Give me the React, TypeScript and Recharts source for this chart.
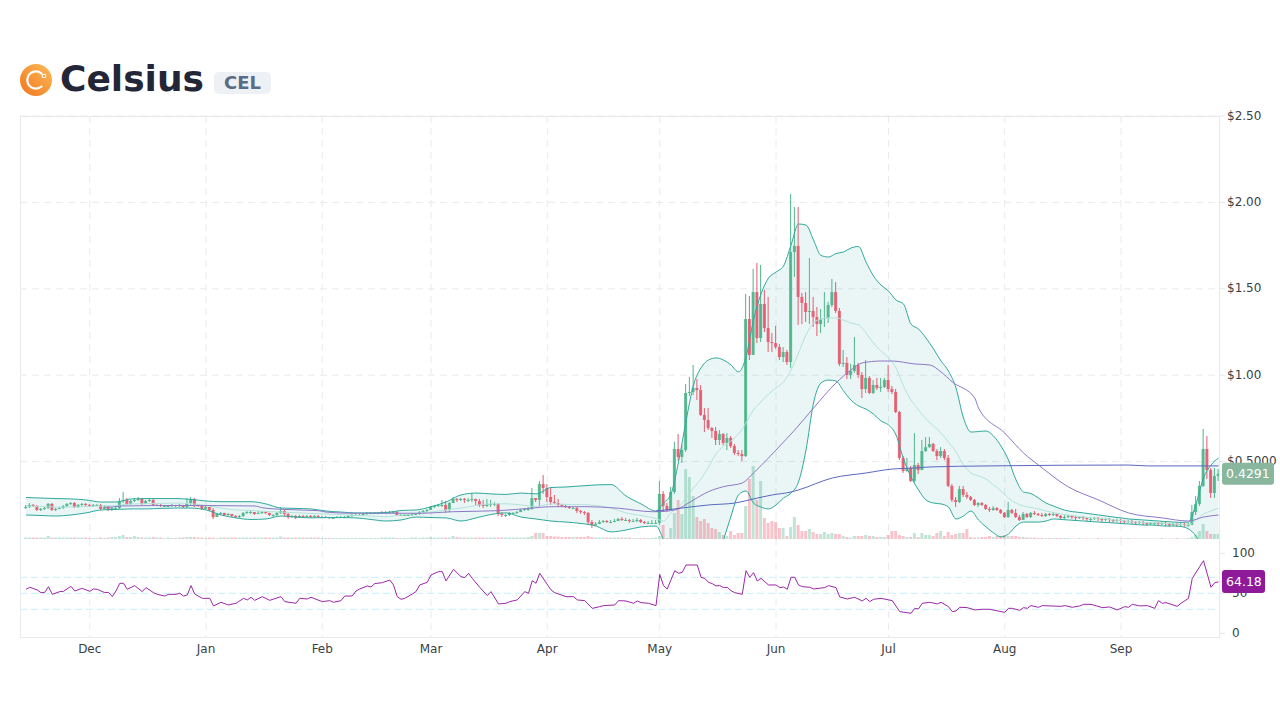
import React from "react";
import {
    ComposedChart,
    Area,
    Bar,
    Line,
    XAxis,
    YAxis,
    CartesianGrid,
} from "recharts";

const monthLabels = ["Dec", "Jan", "Feb", "Mar", "Apr", "May", "Jun", "Jul", "Aug", "Sep"];
const monthDays = [17, 48, 79, 108, 139, 169, 200, 230, 261, 292];
const priceLines = [0.5, 1, 1.5, 2, 2.5];
const rsiLines = [30, 50, 70];
const lastClose = 0.4291;
const lastRsi = 64.18;

const closes = [
    .237,.249,.243,.220,.226,.231,.255,.220,.226,.231,.243,.255,.260,.237,.249,.255,.249,.243,.249,.249,.226,.237,.220,.231,.231,.272,.278,.255,.272,.278,.284,.255,.272,.278,.249,.249,.243,.243,.243,.249,.243,.249,.237,.260,.284,.249,.243,.226,.237,
    .220,.179,.197,.203,.191,.197,.185,.179,.185,.203,.208,.208,.197,.203,.208,.203,.191,.191,.203,.214,.197,.179,.185,.174,.185,.179,.185,.179,.185,.179,
    .179,.179,.174,.174,.179,.179,.179,.185,.191,.191,
    .191,.197,.203,.203,.203,.203,.208,.208,.208,.208,
    .191,.191,.191,.191,.197,.197,.208,.214,.220,.237,
    .243,.249,.249,.220,.260,.284,.278,.284,.278,.278,
    .284,.272,.249,.243,.255,.255,.255,.197,.191,.191,
    .203,.203,.208,.220,.226,.226,.289,.278,.370,.347,
    .295,.266,.260,.249,.243,.237,.231,.231,.214,.208,
    .203,.150,.133,.139,.150,.156,.150,.150,.156,.168,
    .162,.162,.156,.156,.162,.150,.145,.145,.145,.145,
    .313,.243,.220,.324,.573,.527,.567,.897,.903,.926,.914,.770,.741,.694,.677,.625,.660,.608,.637,.590,.550,.544,.532,
    1.325,1.117,1.481,1.215,1.412,1.273,1.192,1.186,1.163,1.105,1.134,1.076,1.713,1.748,1.453,1.418,1.366,1.372,1.337,1.296,1.325,1.331,1.406,1.481,1.372,1.065,1.071,1.001,1.024,1.059,1.001,.920,.984,.897,.943,.926,.932,.972,.920,.903,.787,.521,.446,.463,.388,.480,.451,.561,.584,.602,.561,.532,.561,.521,.359,.278,.266,.341,.307,.295,.278,.249,.260,.249,.226,.220,.231,.220,.203,.179,.220,.203,.179,.162,.197,.179,.203,.197,.191,.185,.197,.191,.197,.185,.174,.179,.185,
    .179,.174,.179,.174,.168,.168,.174,.168,.162,.168,.162,.156,.162,.156,.150,.156,.150,.145,.150,.145,.139,.145,.145,.139,.145,.139,.133,.139,.133,.139,.133,.133,
    .208,.255,.359,.573,.451,.318,.417,lastClose,
];

const highs = [
    .249,.260,.255,.249,.231,.237,.260,.260,.231,.237,.249,.260,.266,.266,.255,.260,.260,.255,.255,.255,.255,.249,.243,.237,.237,.289,.324,.289,.278,.289,.295,.289,.278,.289,.284,.260,.255,.249,.249,.255,.249,.255,.249,.289,.295,.289,.255,.249,.249,
    .237,.231,.203,.208,.203,.203,.197,.191,.191,.208,.214,.220,.208,.214,.214,.208,.203,.197,.208,.237,.220,.203,.191,.191,.191,.191,.191,.191,.191,.191,
    .185,.185,.179,.179,.185,.185,.185,.191,.197,.197,
    .197,.203,.208,.208,.208,.208,.214,.214,.214,.214,
    .214,.197,.197,.197,.203,.203,.214,.220,.226,.243,
    .249,.255,.278,.272,.266,.295,.289,.289,.289,.289,
    .318,.284,.284,.278,.284,.278,.266,.260,.208,.197,
    .208,.208,.214,.226,.231,.237,.347,.289,.388,.422,
    .370,.347,.307,.284,.255,.249,.243,.237,.237,.220,
    .214,.208,.162,.150,.162,.162,.162,.162,.168,.174,
    .179,.174,.168,.168,.174,.168,.156,.156,.162,.162,
    .389,.330,.260,.353,.615,.660,.596,.949,.990,1.059,.978,.943,.810,.810,.700,.700,.683,.665,.665,.648,.602,.567,.567,
    1.470,1.458,1.615,1.649,1.638,1.493,1.453,1.244,1.285,1.181,1.163,1.146,2.049,1.973,1.973,1.476,1.481,1.678,1.453,1.395,1.383,1.481,1.424,1.557,1.539,1.389,1.146,1.105,1.065,1.221,1.071,1.018,1.088,.995,.972,.984,.984,.984,1.059,.937,.920,.793,.532,.521,.475,.665,.492,.625,.642,.642,.608,.573,.584,.573,.538,.370,.295,.359,.359,.324,.301,.284,.266,.266,.255,.237,.243,.237,.226,.208,.266,.226,.226,.191,.208,.203,.208,.214,.203,.203,.203,.203,.208,.197,.191,.191,.191,
    .191,.185,.185,.185,.179,.179,.179,.179,.174,.174,.174,.168,.168,.168,.162,.162,.162,.156,.156,.156,.150,.150,.150,.150,.150,.150,.145,.145,.145,.145,.145,.145,
    .249,.301,.388,.689,.648,.463,.463,.457,
];

const lows = [
    .226,.231,.237,.214,.214,.220,.226,.214,.214,.226,.226,.237,.249,.231,.231,.243,.243,.237,.237,.243,.220,.226,.214,.214,.226,.226,.260,.249,.249,.266,.272,.249,.260,.266,.243,.243,.237,.237,.237,.237,.237,.237,.231,.231,.249,.237,.237,.220,.226,
    .214,.168,.179,.191,.185,.185,.179,.174,.174,.179,.197,.197,.191,.197,.197,.197,.185,.179,.185,.197,.185,.168,.174,.168,.174,.174,.174,.174,.174,.174,
    .174,.174,.168,.168,.174,.174,.174,.174,.179,.185,
    .185,.185,.191,.197,.197,.197,.197,.197,.203,.203,
    .185,.185,.185,.185,.185,.191,.191,.203,.208,.220,
    .231,.237,.237,.203,.208,.260,.266,.272,.260,.266,
    .266,.249,.237,.231,.237,.237,.243,.185,.179,.179,
    .185,.197,.197,.208,.214,.214,.220,.266,.243,.313,
    .266,.249,.255,.237,.237,.231,.226,.226,.203,.197,
    .191,.133,.116,.127,.139,.145,.145,.145,.150,.156,
    .156,.156,.145,.150,.150,.145,.139,.139,.139,.139,
    .133,.208,.208,.220,.313,.503,.492,.556,.880,.885,.856,.764,.671,.683,.637,.596,.596,.596,.567,.579,.538,.532,.503,
    .527,1.088,1.117,1.186,1.192,1.250,1.134,1.134,1.152,1.088,1.076,1.059,1.042,1.568,1.291,1.296,1.308,1.296,1.279,1.227,1.244,1.279,1.302,1.395,1.360,1.053,1.047,.978,.978,1.013,.984,.868,.897,.891,.891,.914,.903,.926,.903,.891,.781,.509,.434,.440,.382,.382,.428,.451,.556,.579,.556,.509,.521,.509,.353,.266,.237,.260,.295,.284,.272,.243,.237,.243,.220,.208,.214,.214,.197,.174,.174,.197,.174,.156,.162,.174,.174,.191,.185,.179,.179,.185,.185,.179,.168,.168,.174,
    .168,.162,.168,.162,.156,.156,.162,.156,.150,.156,.150,.145,.150,.145,.139,.145,.139,.133,.139,.133,.127,.133,.133,.127,.133,.127,.122,.127,.122,.127,.122,.122,
    .139,.191,.243,.353,.399,.289,.289,.388,
];

const volumes = [
    1.5,1.5,1.5,1.5,1.5,1.5,3,1.5,1.5,1.5,
    1.5,1.5,1.5,1.5,1.5,1.5,1.5,1,1,1,
    1.5,1,1.5,2,2,3,4,2,2,3,
    2,1.5,1.5,1.5,2,1.5,1.5,1,1.5,1,
    1,1.5,1.5,2,2,2,1.5,1.5,1,1.5,
    1.5,1,1.5,1.5,1.5,1.5,1.5,1.5,1.5,1.5,
    1.5,1.5,1.5,1.5,1.5,1.5,1.5,1.5,2.5,1.5,
    1.5,1.5,1.5,1.5,1.5,1.5,1.5,1.5,1.5,1,
    1,1,1,1,1,1,1,1,1,1,
    1,1,1,1,1,1.5,1.5,1.5,1.5,1,
    1,1,1,1.5,1.5,1,1.5,1.5,2,1.5,
    1.5,1.5,1.5,1.5,3,2,1.5,1.5,1.5,1.5,
    1.5,1.5,1.5,1.5,1.5,1.5,1.5,1.5,1.5,1.5,
    1.5,1.5,1.5,1.5,2,3,6,6,6,3,
    3,2.5,2.5,2,2,2,2,2,2,2,
    3,2,1.5,1.5,1.5,1.5,1.5,1.5,1.5,1.5,
    1.5,1.5,1,1,1,1,1,1,1.5,
    3,14,1,11,26,39,25,70,62,43,22,18,20,16,11,10,7,4,3,8,4,6,6,
    33,60,73,39,58,21,16,18,17,11,11,3,12,22,14,8,8,10,7,5,5,7,5,6,5,5,3,2,1.5,3,3,3,4,3,3,2,2,2,4,8,8,4,3,2,2,6,2,6,4,4,3,6,8,3,7,4,5,6,6,10,2,1.5,1.5,2,2,3,2,3,3,4,3,3,3,2,2,1.5,1.5,1.5,1,1,1,1,1,1,1,1,1,
    .5,.5,1,.5,.5,.5,.5,1,.5,.5,.5,.5,.5,.5,.5,1,.5,.5,.5,.5,.5,.5,.5,.5,1,.5,.5,.5,1,.5,.5,1,
    2,4,8,15,8,5,5,5,
];

const bandDays = [
    0,4,8,12,16,20,24,28,32,36,40,44,48,52,56,60,64,68,72,76,80,84,88,92,96,100,104,108,112,116,120,124,128,132,136,140,144,148,152,156,160,164,168,
    170,172,174,176,178,180,182,184,186,188,190,192,194,196,198,200,202,204,206,208,210,212,214,216,218,220,222,224,226,228,230,232,234,236,238,240,242,244,246,248,250,252,254,256,258,260,262,264,266,268,270,272,274,276,278,280,282,284,286,288,290,292,294,296,298,300,302,304,306,308,310,312,314,316,318,
];
const bandUpper = [
    .292,.289,.286,.284,.278,.266,.266,.284,.286,.286,.286,.281,.272,.268,.268,.268,.255,.231,.229,.226,.214,.208,.203,.203,.205,.217,.220,.239,.266,.307,.318,.313,.310,.318,.313,.350,.353,.359,.365,.367,.301,.255,.214,
    .260,.313,.498,.735,.943,1.042,1.088,1.100,1.088,1.059,1.019,1.105,1.319,1.470,1.562,1.597,1.632,1.753,1.875,1.869,1.782,1.693,1.684,1.704,1.713,1.736,1.745,1.655,1.574,1.522,1.487,1.435,1.412,1.296,1.267,1.215,1.152,1.082,1.024,.926,.752,.671,.674,.677,.648,.590,.509,.394,.324,.315,.289,.260,.243,.226,.214,.208,.203,.197,.191,.185,.179,.174,.168,.165,.162,.159,.156,.153,.150,.148,.150,.255,.405,.480,.521,
];
const bandMiddle = [
    .243,.240,.237,.237,.240,.243,.245,.255,.256,.258,.260,.256,.246,.231,.220,.217,.211,.208,.204,.200,.197,.193,.188,.185,.181,.191,.200,.208,.220,.231,.246,.255,.256,.249,.240,.255,.252,.251,.246,.231,.203,.188,.171,
    .156,.203,.237,.289,.347,.399,.469,.544,.590,.619,.660,.723,.799,.845,.891,.926,.961,1.030,1.128,1.233,1.302,1.325,1.331,1.331,1.319,1.302,1.291,1.244,1.186,1.140,1.100,1.042,.937,.856,.799,.747,.706,.665,.613,.556,.480,.434,.417,.399,.365,.330,.289,.260,.243,.234,.226,.214,.205,.197,.191,.185,.179,.174,.171,.168,.162,.159,.153,.150,.148,.145,.145,.142,.139,.136,.133,.162,.197,.214,.231,
];
const bandLower = [
    .191,.188,.185,.191,.203,.220,.223,.226,.226,.229,.231,.231,.220,.191,.174,.165,.168,.185,.179,.174,.176,.176,.174,.165,.156,.162,.179,.176,.174,.156,.174,.194,.203,.179,.168,.156,.150,.142,.127,.093,.104,.122,.127,
    .046,-.058,-.185,-.301,-.359,-.417,-.243,-.081,.046,.185,.307,.330,.260,.237,.226,.249,.289,.318,.382,.567,.839,.955,.972,.966,.909,.856,.822,.804,.775,.735,.712,.654,.515,.411,.336,.278,.260,.255,.237,.168,.185,.214,.162,.122,.087,.064,.081,.127,.150,.150,.150,.156,.168,.165,.162,.159,.156,.153,.150,.148,.145,.142,.139,.136,.133,.133,.130,.127,.127,.124,.110,.069,-.012,-.127,-.185,
];

const maFastDays = [21,23,25,42,52,61,63,69,78,80,87,105,114,126,135,140,149,158,167,168,173,175,178,182,186,191,194,198,201,205,210,216,220,223,228,231,237,241,244,247,253,254,261,266,270,278,286,294,303,310,314,318];
const maFast = [.237,.237,.243,.246,.245,.243,.233,.223,.216,.208,.201,.201,.210,.216,.231,.239,.239,.230,.210,.210,.220,.239,.278,.326,.355,.376,.434,.521,.590,.683,.810,.955,1.030,1.071,1.082,1.082,1.065,1.059,1.019,.961,.868,.810,.665,.550,.480,.353,.278,.203,.174,.156,.179,.191];
const maSlowDays = [168,173,177,182,189,194,199,204,206,215,224,231,237,241,257,294,299,318];
const maSlow = [.214,.226,.237,.249,.260,.284,.307,.324,.336,.405,.434,.457,.463,.469,.475,.480,.475,.475];

const rsiDays = [
    0,1,3,4,5,6,7,9,10,12,13,15,17,18,19,21,22,23,24,25,26,27,29,31,32,34,35,37,38,40,41,42,43,44,45,47,49,50,52,54,56,58,59,60,61,63,65,68,69,72,73,75,76,79,81,82,84,85,87,88,89,91,92,93,95,97,98,99,100,101,103,104,105,107,108,110,111,112,114,116,117,118,119,121,123,124,126,128,129,131,133,134,135,136,137,140,141,144,146,147,149,151,153,154,157,158,160,162,163,
    164,166,168,169,170,171,173,174,175,176,179,180,181,182,183,184,185,186,187,188,189,191,192,193,194,195,196,198,200,201,202,203,204,205,206,207,209,210,213,214,216,217,219,221,223,224,225,226,228,231,233,236,237,238,239,241,243,244,246,247,248,249,251,253,255,257,261,262,263,265,266,267,268,270,271,276,277,279,281,282,284,287,289,291,293,294,295,297,299,301,302,303,304,307,308,310,311,314,316,317,318,
];
const rsiValues = [
    55,57.5,54.2,50.8,51.2,58.3,48.7,52.1,52.5,58.7,52.9,56.2,52.5,55.4,55,50.8,51.2,45.8,52.9,62.5,62.5,55,59.6,52.1,57.1,50.8,48.7,46.6,48.7,48.7,50,46.6,47.9,59.6,49.1,43.7,43.7,34.2,38.7,35.4,37.5,43.7,41.7,45,41.2,45.8,41.2,45.8,39.6,37.5,43.7,42.9,45,39.6,40.8,38.7,40.8,46.6,46.6,52.9,55.4,59.2,57.9,62.1,63.3,66.6,60.4,45.8,42.5,43.7,49.1,52.1,60.4,63.7,72.9,77.1,77.1,65.4,80,70.8,69.6,75,68.7,57.5,47.1,52.1,36.7,37.5,39.6,41.7,52.1,50,65.8,62.5,75,54.2,50.8,45.8,45.8,41.7,40.8,31.2,33.3,34.6,35.4,40.8,40.4,37.5,40.4,
    38.3,37.5,34.6,73.7,59.6,55.4,78.3,75,76.2,85.4,85.4,70,68.7,63.7,62.1,59.2,59.6,57.1,57.5,53.3,50.8,48.7,78.3,70,75.8,65.4,68.7,60.4,60.4,57.1,57.9,55,70,70,60.4,58.3,57.5,55.4,57.1,59.6,57.1,45.4,42.9,45,40.4,43.7,39.6,42.5,43.7,40.8,27.1,25,31.2,30.4,37.5,38.7,36.7,38.7,33.3,27.1,27.9,32.5,32.1,29.2,30,30,26.2,31.2,31.2,28.7,32.1,31.2,34.6,32.5,34.6,33.7,34.6,32.5,34.2,36.2,36.2,32.1,32.9,29.2,33.3,32.5,36.2,34.2,34.6,31.2,40.8,37.5,38.3,33.7,37.5,43.7,68.7,90.8,57.5,63.3,lastRsi,
];

const candleRows = closes.map((close, i) => {
    const open = i === 0 ? close : closes[i - 1];
    return { i, open, close, high: highs[i], low: lows[i], range: [lows[i], highs[i]], volume: volumes[i] };
});
const bandRows = bandDays.map((i, k) => ({
    i,
    upper: bandUpper[k],
    middle: bandMiddle[k],
    lower: bandLower[k],
    band: [bandLower[k], bandUpper[k]],
}));
const maFastRows = maFastDays.map((i, k) => ({ i, v: maFast[k] }));
const maSlowRows = maSlowDays.map((i, k) => ({ i, v: maSlow[k] }));
const rsiRows = rsiDays.map((i, k) => ({ i, v: rsiValues[k] }));

const GREEN = "#4fb58c";
const RED = "#e55c70";
const FONT = "'DejaVu Sans', sans-serif";
const TIME_DOMAIN: [number, number] = [-1.6, 318.4];

function Candle(props: any) {
    const { x, y, width, height, payload } = props;
    const color = payload.close >= payload.open ? GREEN : RED;
    const perUnit = height / (payload.high - payload.low);
    const top = y + (payload.high - Math.max(payload.open, payload.close)) * perUnit;
    const bottom = y + (payload.high - Math.min(payload.open, payload.close)) * perUnit;
    return (
        <g>
            <line x1={x + width / 2} x2={x + width / 2} y1={y} y2={y + height} stroke={color} strokeWidth={1} />
            <rect x={x} y={top} width={width} height={Math.max(bottom - top, 1)} fill={color} fillOpacity={0.92} />
        </g>
    );
}

function VolumeBar(props: any) {
    const { x, y, width, height, payload } = props;
    const color = payload.close >= payload.open ? "rgba(79,181,140,0.36)" : "rgba(236,90,112,0.36)";
    return <rect x={x} y={y} width={width} height={height} fill={color} />;
}

function PriceTick(props: any) {
    const { x, y, payload } = props;
    if (payload.value === lastClose) {
        return (
            <g>
                <rect x={x - 5} y={y - 11} width={52} height={22} rx={3} fill="#88b79d" />
                <text x={x - 1} y={y + 4.5} fontSize={12.5} fontFamily={FONT} fill="#fff">{lastClose.toFixed(4)}</text>
            </g>
        );
    }
    const label = payload.value === 0.5 ? "$0.5000" : "$" + payload.value.toFixed(2);
    return <text x={x} y={y + 3.5} fontSize={12} fontFamily={FONT} fill="#3a3f45">{label}</text>;
}

function RsiTick(props: any) {
    const { x, y, payload } = props;
    if (payload.value === lastRsi) {
        return (
            <g>
                <rect x={x - 5} y={y - 12} width={43} height={23} rx={3} fill="#8f1a99" />
                <text x={x - 1} y={y + 4} fontSize={12.5} fontFamily={FONT} fill="#fff">{lastRsi.toFixed(2)}</text>
            </g>
        );
    }
    return <text x={x + 5} y={y + 4} fontSize={12} fontFamily={FONT} fill="#3a3f45">{payload.value}</text>;
}

function Logo() {
    return (
        <svg width={32} height={32} viewBox="0 0 32 32" style={{ position: "absolute", left: 20, top: 64 }}>
            <defs>
                <linearGradient id="celLogo" x1="0" y1="1" x2="1" y2="0">
                    <stop offset="0" stopColor="#f0761f" />
                    <stop offset="1" stopColor="#fdbb58" />
                </linearGradient>
            </defs>
            <circle cx={16} cy={16} r={16} fill="url(#celLogo)" />
            <path d="M21.5 9.5 A8.6 8.6 0 1 0 21.5 22.5" fill="none" stroke="#fff" strokeWidth={2.2} strokeLinecap="round" />
            <circle cx={24} cy={12} r={1.8} fill="none" stroke="#fff" strokeWidth={1.1} />
        </svg>
    );
}

export default function App() {
    return (
        <div style={{ position: "absolute", left: 0, top: 0, width: 1280, height: 720, background: "#fff", fontFamily: FONT }}>
            <Logo />
            <div style={{ position: "absolute", left: 60, top: 58, fontSize: 36, lineHeight: "42px", fontWeight: 700, color: "#232637" }}>Celsius</div>
            <div style={{ position: "absolute", left: 214, top: 72, width: 57, height: 22, borderRadius: 5, background: "#edf1f5", color: "#5b6b85", fontSize: 18, fontWeight: 700, lineHeight: "22px", textAlign: "center" }}>CEL</div>

            <div style={{ position: "absolute", left: 0, top: 0 }}>
                <ComposedChart width={1280} height={540} data={candleRows} margin={{ top: 116, right: 0, bottom: 1, left: 20 }}>
                    <XAxis xAxisId="time" dataKey="i" type="number" domain={TIME_DOMAIN} ticks={monthDays} allowDataOverflow hide />
                    <XAxis xAxisId="volTime" dataKey="i" type="number" domain={TIME_DOMAIN} allowDataOverflow hide />
                    <YAxis
                        yAxisId="price"
                        orientation="right"
                        width={60}
                        type="number"
                        domain={[0.052, 2.5]}
                        allowDataOverflow
                        ticks={[...priceLines, lastClose]}
                        interval={0}
                        tick={<PriceTick />}
                        tickSize={5}
                        tickMargin={2}
                        axisLine={false}
                        tickLine={{ stroke: "#e4e6e8" }}
                    />
                    <YAxis yAxisId="volume" hide type="number" domain={[0, 423]} allowDataOverflow />
                    <CartesianGrid
                        xAxisId="time"
                        yAxisId="price"
                        stroke="#e9eaec"
                        strokeDasharray="7 5"
                        horizontalValues={priceLines}
                        verticalValues={monthDays}
                    />
                    <Bar xAxisId="volTime" yAxisId="volume" dataKey="volume" barSize={3} shape={<VolumeBar />} isAnimationActive={false} />
                    <Area xAxisId="time" yAxisId="price" data={bandRows} dataKey="band" type="monotoneX" stroke="none" fill="#26a69a" fillOpacity={0.1} isAnimationActive={false} />
                    <Line xAxisId="time" yAxisId="price" data={bandRows} dataKey="middle" type="monotoneX" stroke="#b5e2dc" strokeWidth={1} dot={false} isAnimationActive={false} />
                    <Line xAxisId="time" yAxisId="price" data={bandRows} dataKey="upper" type="monotoneX" stroke="#2fa99c" strokeWidth={1} dot={false} isAnimationActive={false} />
                    <Line xAxisId="time" yAxisId="price" data={bandRows} dataKey="lower" type="monotoneX" stroke="#2fa99c" strokeWidth={1} dot={false} isAnimationActive={false} />
                    <Line xAxisId="time" yAxisId="price" data={maFastRows} dataKey="v" type="monotoneX" stroke="#8f78c6" strokeWidth={1} dot={false} isAnimationActive={false} />
                    <Line xAxisId="time" yAxisId="price" data={maSlowRows} dataKey="v" type="monotoneX" stroke="#5a68c0" strokeWidth={1} dot={false} isAnimationActive={false} />
                    <Bar xAxisId="time" yAxisId="price" dataKey="range" barSize={3} shape={<Candle />} isAnimationActive={false} />
                </ComposedChart>
            </div>

            <div style={{ position: "absolute", left: 0, top: 539 }}>
                <ComposedChart width={1280} height={130} data={rsiRows} margin={{ top: 0, right: 0, bottom: 0, left: 20 }}>
                    <XAxis
                        dataKey="i"
                        type="number"
                        domain={TIME_DOMAIN}
                        allowDataOverflow
                        ticks={monthDays}
                        interval={0}
                        height={31}
                        tickFormatter={(d: number) => monthLabels[monthDays.indexOf(d)]}
                        tick={{ fontSize: 12, fontFamily: FONT, fill: "#3a3f45" }}
                        tickLine={false}
                        tickMargin={0}
                        axisLine={false}
                    />
                    <YAxis
                        orientation="right"
                        width={60}
                        type="number"
                        domain={[-5.9, 117.9]}
                        allowDataOverflow
                        ticks={[0, 50, 100, lastRsi]}
                        interval={0}
                        tick={<RsiTick />}
                        tickSize={5}
                        tickMargin={2}
                        axisLine={false}
                        tickLine={{ stroke: "#e4e6e8" }}
                    />
                    <CartesianGrid stroke="#e9eaec" strokeDasharray="7 5" horizontal={false} verticalValues={monthDays} />
                    <CartesianGrid stroke="#c6eefb" strokeDasharray="7 4" vertical={false} horizontalValues={rsiLines} />
                    <Line dataKey="v" type="linear" stroke="#9c27a8" strokeWidth={1} dot={false} isAnimationActive={false} />
                </ComposedChart>
            </div>

            <div style={{ position: "absolute", left: 20, top: 116, width: 1200, height: 522, boxSizing: "border-box", border: "1px solid #e8e9eb", pointerEvents: "none" }} />
        </div>
    );
}
